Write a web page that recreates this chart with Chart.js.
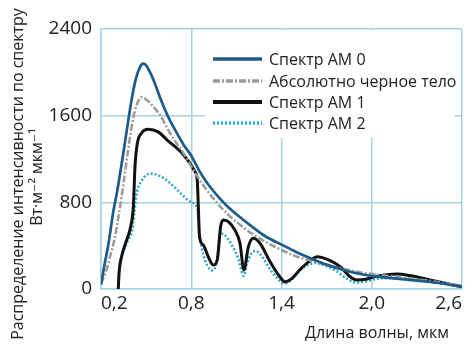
<!DOCTYPE html>
<html lang="ru">
<head>
<meta charset="utf-8">
<title>Спектр излучения</title>
<script src="https://cdn.jsdelivr.net/npm/chart.js@4.4.1/dist/chart.umd.min.js"></script>
<style>
  html, body { margin: 0; padding: 0; background: #fff; }
  #chart { display: block; }
</style>
</head>
<body>
<canvas id="chart" width="474" height="360"></canvas>
<script>
'use strict';

// axis ticks
const xTicks = [0.2, 0.8, 1.4, 2.0, 2.6];
const yTicks = [0, 800, 1600, 2400];

const seriesNames = ['Спектр АМ 0', 'Абсолютно черное тело', 'Спектр АМ 1', 'Спектр АМ 2'];
const xTitle = 'Длина волны, мкм';
const yTitle = ['Распределение интенсивности по спектру', 'Вт·м⁻² мкм⁻¹'];

// AM 0 (extraterrestrial)
const am0Wl  = [0.20, 0.22, 0.25, 0.28, 0.31, 0.34, 0.37, 0.40, 0.43, 0.46, 0.48, 0.50, 0.53, 0.56, 0.60,
                0.65, 0.70, 0.75, 0.80, 0.85, 0.90, 0.95, 1.00, 1.05, 1.10, 1.20, 1.30, 1.40, 1.50, 1.60,
                1.70, 1.80, 1.90, 2.00, 2.10, 2.20, 2.30, 2.40, 2.50, 2.60];
const am0Val = [40, 200, 420, 700, 920, 1180, 1450, 1720, 1930, 2050, 2080, 2065, 1990, 1890, 1740,
                1580, 1450, 1330, 1230, 1100, 990, 900, 820, 750, 690, 580, 480, 410, 340, 280,
                225, 180, 145, 120, 105, 90, 77, 62, 44, 22];

// black body
const bbWl  = [0.20, 0.23, 0.26, 0.29, 0.32, 0.35, 0.38, 0.41, 0.44, 0.47, 0.50, 0.55, 0.60, 0.65, 0.70,
               0.75, 0.80, 0.85, 0.90, 0.95, 1.00, 1.05, 1.10, 1.20, 1.30, 1.40, 1.50, 1.60, 1.70, 1.80,
               1.90, 2.00, 2.10, 2.20, 2.30, 2.40, 2.50, 2.60];
const bbVal = [50, 150, 300, 460, 700, 980, 1280, 1550, 1710, 1770, 1750, 1680, 1590, 1460, 1350,
               1250, 1130, 1020, 920, 830, 750, 680, 620, 515, 430, 360, 300, 260, 220, 190,
               160, 140, 122, 106, 90, 72, 52, 30];

// AM 1
const am1Wl  = [0.315, 0.32, 0.337, 0.37, 0.397, 0.415, 0.426, 0.441, 0.47, 0.515, 0.58, 0.64, 0.75, 0.825,
                0.84, 0.847, 0.855, 0.88, 0.913, 0.947, 0.973, 0.995, 1.013, 1.046, 1.09, 1.124, 1.15,
                1.18, 1.213, 1.257, 1.324, 1.38, 1.424, 1.47, 1.52, 1.58, 1.64, 1.70, 1.79, 1.85, 1.90,
                1.96, 2.02, 2.10, 2.17, 2.25, 2.34, 2.45, 2.60];
const am1Val = [0, 145, 300, 450, 575, 760, 1130, 1340, 1440, 1475, 1450, 1375, 1237, 1083,
                1006, 760, 483, 406, 298, 221, 268, 575, 637, 622, 545, 422, 175,
                391, 468, 422, 252, 129, 67, 98, 175, 250, 298, 275, 206, 120, 83,
                90, 114, 132, 138, 125, 99, 65, 20];

// AM 2
const am2Wl  = [0.315, 0.32, 0.335, 0.35, 0.38, 0.41, 0.425, 0.44, 0.47, 0.50, 0.53, 0.57, 0.62, 0.68,
                0.74, 0.80, 0.84, 0.855, 0.87, 0.89, 0.92, 0.945, 0.97, 0.99, 1.01, 1.04, 1.08, 1.11,
                1.14, 1.15, 1.17, 1.20, 1.23, 1.27, 1.32, 1.37, 1.42, 1.47, 1.53, 1.58, 1.63, 1.70,
                1.77, 1.83, 1.89, 1.95, 2.02, 2.10, 2.20, 2.30, 2.40, 2.50, 2.60];
const am2Val = [0, 150, 280, 350, 450, 560, 750, 900, 1000, 1050, 1065, 1055, 1020, 950,
                870, 800, 740, 500, 380, 270, 190, 170, 260, 480, 510, 470, 380, 290,
                140, 120, 230, 330, 350, 300, 190, 100, 50, 90, 180, 225, 240, 210,
                160, 100, 60, 65, 90, 100, 98, 85, 65, 45, 20];

const FONT = '"Open Sans", "DejaVu Sans", sans-serif';
const gridColor = '#a6d2e2';
const textColor = '#222';

const styles = [
  { color: '#1c5b8a', width: 2.7, dash: [] },
  { color: '#9a9a9a', width: 2.5, dash: [7, 2, 2, 2] },
  { color: '#111111', width: 3,   dash: [] },
  { color: '#2aa3d6', width: 2.5, dash: [2, 2] }
];

const toPoints = (xs, ys) => xs.map((x, i) => ({ x, y: ys[i] }));
const fmt = v => Number(v).toFixed(1).replace('.', ',');

const seriesData = [
  toPoints(am0Wl, am0Val),
  toPoints(bbWl, bbVal),
  toPoints(am1Wl, am1Val),
  toPoints(am2Wl, am2Val)
];

// legend in white box over the grid
const legendBox = {
  id: 'legendBox',
  beforeDatasetsDraw(chart) {
    const { ctx, chartArea } = chart;
    ctx.save();
    ctx.fillStyle = '#fff';
    ctx.fillRect(205, chartArea.top + 1, 250, 108);
    ctx.font = '16px ' + FONT;
    ctx.textBaseline = 'middle';
    ctx.textAlign = 'left';
    const rowY = [59, 81, 102, 123];
    seriesNames.forEach((name, i) => {
      const st = styles[i];
      ctx.beginPath();
      ctx.strokeStyle = st.color;
      ctx.lineWidth = st.width + 0.8;
      ctx.setLineDash(st.dash);
      ctx.moveTo(213, rowY[i]);
      ctx.lineTo(262, rowY[i]);
      ctx.stroke();
      ctx.setLineDash([]);
      ctx.fillStyle = textColor;
      ctx.fillText(name, 269, rowY[i] + 1);
    });
    ctx.restore();
  }
};

// axis titles
const axisTitles = {
  id: 'axisTitles',
  afterDraw(chart) {
    const { ctx } = chart;
    ctx.save();
    ctx.fillStyle = textColor;
    ctx.font = '16px ' + FONT;
    ctx.textAlign = 'center';
    ctx.textBaseline = 'middle';
    ctx.fillText(xTitle, 377, 333);
    ctx.translate(18, 174);
    ctx.rotate(-Math.PI / 2);
    ctx.fillText(yTitle[0], 0, 0);
    ctx.fillText(yTitle[1], -3, 19);
    ctx.restore();
  }
};

new Chart(document.getElementById('chart'), {
  type: 'line',
  data: {
    datasets: seriesData.map((d, i) => ({
      label: seriesNames[i],
      data: d,
      borderColor: styles[i].color,
      borderWidth: styles[i].width,
      borderDash: styles[i].dash,
      pointRadius: 0,
      fill: false,
      cubicInterpolationMode: 'monotone'
    }))
  },
  options: {
    responsive: false,
    animation: false,
    layout: { padding: { top: 29, right: 12, left: 0, bottom: 0 } },
    plugins: { legend: { display: false }, tooltip: { enabled: false } },
    scales: {
      x: {
        type: 'linear', min: 0.2, max: 2.6,
        afterBuildTicks: s => { s.ticks = xTicks.map(v => ({ value: v })); },
        afterFit: s => { s.height = 71; },
        grid: { color: gridColor, lineWidth: 1.5, drawTicks: false },
        border: { color: gridColor, width: 1.5 },
        ticks: { align: 'inner', padding: 3, color: textColor, maxRotation: 0, autoSkip: false,
                 font: { family: FONT, size: 19 }, callback: v => fmt(v) }
      },
      y: {
        min: 0, max: 2400,
        afterBuildTicks: s => { s.ticks = yTicks.map(v => ({ value: v })); },
        afterFit: s => { s.width = 101; },
        grid: { color: gridColor, lineWidth: 1.5, drawTicks: false },
        border: { color: gridColor, width: 1.5 },
        ticks: { padding: 9, color: textColor, font: { family: FONT, size: 19 },
                 callback: v => String(v) }
      }
    }
  },
  plugins: [legendBox, axisTitles]
});
</script>
</body>
</html>
